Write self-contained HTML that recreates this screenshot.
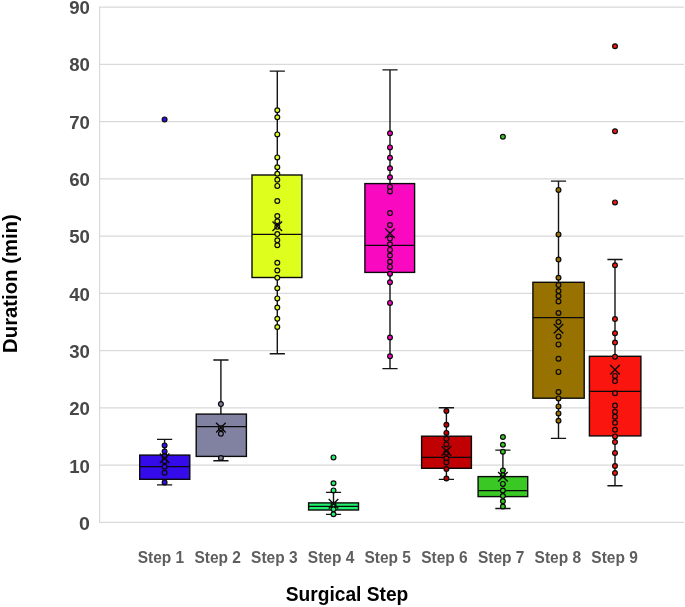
<!DOCTYPE html>
<html lang="en"><head><meta charset="utf-8"><title>Surgical Step Duration</title>
<style>html,body{margin:0;padding:0;background:#fff}svg{display:block}</style></head>
<body>
<svg width="685" height="607" viewBox="0 0 685 607">
<rect width="685" height="607" fill="#fff"/>
<g stroke="#d9d9d9" stroke-width="1.2" fill="none">
<line x1="99.6" y1="522.45" x2="684" y2="522.45"/>
<line x1="99.6" y1="465.20" x2="684" y2="465.20"/>
<line x1="99.6" y1="407.95" x2="684" y2="407.95"/>
<line x1="99.6" y1="350.70" x2="684" y2="350.70"/>
<line x1="99.6" y1="293.45" x2="684" y2="293.45"/>
<line x1="99.6" y1="236.20" x2="684" y2="236.20"/>
<line x1="99.6" y1="178.95" x2="684" y2="178.95"/>
<line x1="99.6" y1="121.70" x2="684" y2="121.70"/>
<line x1="99.6" y1="64.45" x2="684" y2="64.45"/>
<line x1="99.6" y1="7.20" x2="684" y2="7.20"/>
<line x1="99.6" y1="6.60" x2="99.6" y2="523.05"/>
</g>
<g font-family="'Liberation Sans', Arial, sans-serif" font-weight="bold" font-size="17.8" fill="#474747" text-anchor="end">
<text x="89.85" y="529.95" textLength="10.9" lengthAdjust="spacingAndGlyphs">0</text>
<text x="89.85" y="472.60" textLength="20.7" lengthAdjust="spacingAndGlyphs">10</text>
<text x="89.85" y="415.25" textLength="20.7" lengthAdjust="spacingAndGlyphs">20</text>
<text x="89.85" y="357.90" textLength="20.7" lengthAdjust="spacingAndGlyphs">30</text>
<text x="89.85" y="300.55" textLength="20.7" lengthAdjust="spacingAndGlyphs">40</text>
<text x="89.85" y="243.20" textLength="20.7" lengthAdjust="spacingAndGlyphs">50</text>
<text x="89.85" y="185.85" textLength="20.7" lengthAdjust="spacingAndGlyphs">60</text>
<text x="89.85" y="128.50" textLength="20.7" lengthAdjust="spacingAndGlyphs">70</text>
<text x="89.85" y="71.15" textLength="20.7" lengthAdjust="spacingAndGlyphs">80</text>
<text x="89.85" y="13.80" textLength="20.7" lengthAdjust="spacingAndGlyphs">90</text>
</g>
<g stroke="#0a0a0a" fill="none">
<path d="M164.6 439.4V455.1M164.6 479.3V484.9M157.0 439.4H172.2M157.0 484.9H172.2" stroke-width="1.4" stroke="#141414"/>
<rect x="139.7" y="455.1" width="50.1" height="24.2" fill="#350bea" stroke-width="1.4"/>
<path d="M139.7 466.6H189.8" stroke-width="1.25"/>
<g fill="#350bea" stroke-width="1.2">
<circle cx="164.6" cy="119.4" r="2.4"/>
<circle cx="164.6" cy="445.4" r="2.4"/>
<circle cx="164.6" cy="451.4" r="2.4"/>
<circle cx="164.6" cy="456.2" r="2.4"/>
<circle cx="164.6" cy="461.3" r="2.4"/>
<circle cx="164.6" cy="466.8" r="2.4"/>
<circle cx="164.6" cy="472.7" r="2.4"/>
<circle cx="164.6" cy="482.4" r="2.4"/>
</g>
<path d="M159.8 453.4L169.4 463.0M159.8 463.0L169.4 453.4" stroke-width="1.35"/>
</g>
<g stroke="#0a0a0a" fill="none">
<path d="M220.9 360.0V414.1M220.9 456.4V460.8M213.3 360.0H228.5M213.3 460.8H228.5" stroke-width="1.4" stroke="#141414"/>
<rect x="196.2" y="414.1" width="50.2" height="42.3" fill="#8181a2" stroke-width="1.4"/>
<path d="M196.2 426.5H246.4" stroke-width="1.25"/>
<g fill="#8181a2" stroke-width="1.2">
<circle cx="220.9" cy="404.1" r="2.4"/>
<circle cx="220.9" cy="428.3" r="2.4"/>
<circle cx="220.9" cy="433.8" r="2.4"/>
<circle cx="220.9" cy="458.0" r="2.4"/>
</g>
<path d="M216.1 422.8L225.7 432.4M216.1 432.4L225.7 422.8" stroke-width="1.35"/>
</g>
<g stroke="#0a0a0a" fill="none">
<path d="M277.3 71.1V175.0M277.3 277.5V353.8M269.7 71.1H284.9M269.7 353.8H284.9" stroke-width="1.4" stroke="#141414"/>
<rect x="252.0" y="175.0" width="49.9" height="102.5" fill="#deff1e" stroke-width="1.4"/>
<path d="M252.0 234.4H301.9" stroke-width="1.25"/>
<g fill="#deff1e" stroke-width="1.2">
<circle cx="277.3" cy="110.2" r="2.4"/>
<circle cx="277.3" cy="117.3" r="2.4"/>
<circle cx="277.3" cy="134.4" r="2.4"/>
<circle cx="277.3" cy="157.4" r="2.4"/>
<circle cx="277.3" cy="167.2" r="2.4"/>
<circle cx="277.3" cy="173.7" r="2.4"/>
<circle cx="277.3" cy="179.8" r="2.4"/>
<circle cx="277.3" cy="185.9" r="2.4"/>
<circle cx="277.3" cy="201.0" r="2.4"/>
<circle cx="277.3" cy="216.0" r="2.4"/>
<circle cx="277.3" cy="221.3" r="2.4"/>
<circle cx="277.3" cy="226.7" r="2.4"/>
<circle cx="277.3" cy="234.1" r="2.4"/>
<circle cx="277.3" cy="240.2" r="2.4"/>
<circle cx="277.3" cy="245.3" r="2.4"/>
<circle cx="277.3" cy="262.7" r="2.4"/>
<circle cx="277.3" cy="270.5" r="2.4"/>
<circle cx="277.3" cy="277.7" r="2.4"/>
<circle cx="277.3" cy="288.2" r="2.4"/>
<circle cx="277.3" cy="298.4" r="2.4"/>
<circle cx="277.3" cy="307.6" r="2.4"/>
<circle cx="277.3" cy="318.8" r="2.4"/>
<circle cx="277.3" cy="327.0" r="2.4"/>
</g>
<path d="M272.5 221.4L282.1 231.0M272.5 231.0L282.1 221.4" stroke-width="1.35"/>
</g>
<g stroke="#0a0a0a" fill="none">
<path d="M333.5 492.4V502.9M333.5 510.0V514.4M325.9 492.4H341.1M325.9 514.4H341.1" stroke-width="1.4" stroke="#141414"/>
<rect x="308.6" y="502.9" width="49.9" height="7.1" fill="#22f06e" stroke-width="1.4"/>
<path d="M308.6 506.3H358.5" stroke-width="1.25"/>
<g fill="#22f06e" stroke-width="1.2">
<circle cx="333.5" cy="457.4" r="2.4"/>
<circle cx="333.5" cy="483.3" r="2.4"/>
<circle cx="333.5" cy="490.4" r="2.4"/>
<circle cx="333.5" cy="504.8" r="2.4"/>
<circle cx="333.5" cy="509.3" r="2.4"/>
<circle cx="333.5" cy="514.2" r="2.4"/>
</g>
<path d="M328.7 499.0L338.3 508.6M328.7 508.6L338.3 499.0" stroke-width="1.35"/>
</g>
<g stroke="#0a0a0a" fill="none">
<path d="M390.0 69.9V183.6M390.0 272.4V368.6M382.4 69.9H397.6M382.4 368.6H397.6" stroke-width="1.4" stroke="#141414"/>
<rect x="364.9" y="183.6" width="49.7" height="88.8" fill="#f90ac1" stroke-width="1.4"/>
<path d="M364.9 245.3H414.6" stroke-width="1.25"/>
<g fill="#f90ac1" stroke-width="1.2">
<circle cx="390.0" cy="133.2" r="2.4"/>
<circle cx="390.0" cy="147.4" r="2.4"/>
<circle cx="390.0" cy="157.7" r="2.4"/>
<circle cx="390.0" cy="168.3" r="2.4"/>
<circle cx="390.0" cy="177.3" r="2.4"/>
<circle cx="390.0" cy="186.9" r="2.4"/>
<circle cx="390.0" cy="191.4" r="2.4"/>
<circle cx="390.0" cy="213.1" r="2.4"/>
<circle cx="390.0" cy="225.0" r="2.4"/>
<circle cx="390.0" cy="238.6" r="2.4"/>
<circle cx="390.0" cy="244.2" r="2.4"/>
<circle cx="390.0" cy="249.9" r="2.4"/>
<circle cx="390.0" cy="255.6" r="2.4"/>
<circle cx="390.0" cy="261.8" r="2.4"/>
<circle cx="390.0" cy="266.9" r="2.4"/>
<circle cx="390.0" cy="273.8" r="2.4"/>
<circle cx="390.0" cy="282.2" r="2.4"/>
<circle cx="390.0" cy="302.9" r="2.4"/>
<circle cx="390.0" cy="337.5" r="2.4"/>
<circle cx="390.0" cy="356.3" r="2.4"/>
</g>
<path d="M385.2 228.5L394.8 238.1M385.2 238.1L394.8 228.5" stroke-width="1.35"/>
</g>
<g stroke="#0a0a0a" fill="none">
<path d="M446.4 407.7V436.2M446.4 468.3V479.4M438.8 407.7H454.0M438.8 479.4H454.0" stroke-width="1.4" stroke="#141414"/>
<rect x="421.6" y="436.2" width="49.8" height="32.1" fill="#c00003" stroke-width="1.4"/>
<path d="M421.6 457.3H471.4" stroke-width="1.25"/>
<g fill="#c00003" stroke-width="1.2">
<circle cx="446.4" cy="411.0" r="2.4"/>
<circle cx="446.4" cy="424.7" r="2.4"/>
<circle cx="446.4" cy="432.9" r="2.4"/>
<circle cx="446.4" cy="438.7" r="2.4"/>
<circle cx="446.4" cy="444.4" r="2.4"/>
<circle cx="446.4" cy="452.7" r="2.4"/>
<circle cx="446.4" cy="458.4" r="2.4"/>
<circle cx="446.4" cy="462.5" r="2.4"/>
<circle cx="446.4" cy="469.1" r="2.4"/>
<circle cx="446.4" cy="478.5" r="2.4"/>
</g>
<path d="M441.6 446.2L451.2 455.8M441.6 455.8L451.2 446.2" stroke-width="1.35"/>
</g>
<g stroke="#0a0a0a" fill="none">
<path d="M502.9 450.1V476.6M502.9 496.6V508.5M495.3 450.1H510.5M495.3 508.5H510.5" stroke-width="1.4" stroke="#141414"/>
<rect x="478.1" y="476.6" width="49.6" height="20.0" fill="#39c824" stroke-width="1.4"/>
<path d="M478.1 490.5H527.7" stroke-width="1.25"/>
<g fill="#39c824" stroke-width="1.2">
<circle cx="502.9" cy="136.7" r="2.4"/>
<circle cx="502.9" cy="437.0" r="2.4"/>
<circle cx="502.9" cy="444.7" r="2.4"/>
<circle cx="502.9" cy="451.8" r="2.4"/>
<circle cx="502.9" cy="470.6" r="2.4"/>
<circle cx="502.9" cy="475.2" r="2.4"/>
<circle cx="502.9" cy="483.9" r="2.4"/>
<circle cx="502.9" cy="490.5" r="2.4"/>
<circle cx="502.9" cy="496.1" r="2.4"/>
<circle cx="502.9" cy="501.2" r="2.4"/>
<circle cx="502.9" cy="506.5" r="2.4"/>
</g>
<path d="M498.1 472.0L507.7 481.6M498.1 481.6L507.7 472.0" stroke-width="1.35"/>
</g>
<g stroke="#0a0a0a" fill="none">
<path d="M558.5 181.1V282.3M558.5 398.2V438.4M550.9 181.1H566.1M550.9 438.4H566.1" stroke-width="1.4" stroke="#141414"/>
<rect x="532.9" y="282.3" width="51.3" height="115.9" fill="#977200" stroke-width="1.4"/>
<path d="M532.9 317.5H584.2" stroke-width="1.25"/>
<g fill="#977200" stroke-width="1.2">
<circle cx="558.5" cy="189.9" r="2.4"/>
<circle cx="558.5" cy="234.4" r="2.4"/>
<circle cx="558.5" cy="259.6" r="2.4"/>
<circle cx="558.5" cy="277.7" r="2.4"/>
<circle cx="558.5" cy="285.0" r="2.4"/>
<circle cx="558.5" cy="291.0" r="2.4"/>
<circle cx="558.5" cy="296.0" r="2.4"/>
<circle cx="558.5" cy="301.4" r="2.4"/>
<circle cx="558.5" cy="313.0" r="2.4"/>
<circle cx="558.5" cy="322.0" r="2.4"/>
<circle cx="558.5" cy="336.5" r="2.4"/>
<circle cx="558.5" cy="344.4" r="2.4"/>
<circle cx="558.5" cy="358.8" r="2.4"/>
<circle cx="558.5" cy="371.9" r="2.4"/>
<circle cx="558.5" cy="392.0" r="2.4"/>
<circle cx="558.5" cy="398.4" r="2.4"/>
<circle cx="558.5" cy="406.4" r="2.4"/>
<circle cx="558.5" cy="413.4" r="2.4"/>
<circle cx="558.5" cy="420.7" r="2.4"/>
</g>
<path d="M553.7 324.0L563.3 333.6M553.7 333.6L563.3 324.0" stroke-width="1.35"/>
</g>
<g stroke="#0a0a0a" fill="none">
<path d="M615.0 259.5V356.3M615.0 435.9V485.8M607.4 259.5H622.6M607.4 485.8H622.6" stroke-width="1.4" stroke="#141414"/>
<rect x="589.4" y="356.3" width="51.5" height="79.6" fill="#fa150f" stroke-width="1.4"/>
<path d="M589.4 391.4H640.9" stroke-width="1.25"/>
<g fill="#fa150f" stroke-width="1.2">
<circle cx="615.0" cy="46.2" r="2.4"/>
<circle cx="615.0" cy="131.2" r="2.4"/>
<circle cx="615.0" cy="202.4" r="2.4"/>
<circle cx="615.0" cy="265.2" r="2.4"/>
<circle cx="615.0" cy="319.1" r="2.4"/>
<circle cx="615.0" cy="333.2" r="2.4"/>
<circle cx="615.0" cy="342.6" r="2.4"/>
<circle cx="615.0" cy="356.7" r="2.4"/>
<circle cx="615.0" cy="375.9" r="2.4"/>
<circle cx="615.0" cy="381.1" r="2.4"/>
<circle cx="615.0" cy="393.2" r="2.4"/>
<circle cx="615.0" cy="405.6" r="2.4"/>
<circle cx="615.0" cy="411.7" r="2.4"/>
<circle cx="615.0" cy="416.7" r="2.4"/>
<circle cx="615.0" cy="422.8" r="2.4"/>
<circle cx="615.0" cy="429.8" r="2.4"/>
<circle cx="615.0" cy="436.4" r="2.4"/>
<circle cx="615.0" cy="442.1" r="2.4"/>
<circle cx="615.0" cy="453.0" r="2.4"/>
<circle cx="615.0" cy="466.0" r="2.4"/>
<circle cx="615.0" cy="473.0" r="2.4"/>
</g>
<path d="M610.2 365.0L619.8 374.6M610.2 374.6L619.8 365.0" stroke-width="1.35"/>
</g>
<g font-family="'Liberation Sans', Arial, sans-serif" font-weight="bold" font-size="16.2" fill="#5e5e5e">
<text x="137.70" y="562.7" textLength="46.5" lengthAdjust="spacingAndGlyphs">Step 1</text>
<text x="194.40" y="562.7" textLength="46.5" lengthAdjust="spacingAndGlyphs">Step 2</text>
<text x="251.10" y="562.7" textLength="46.5" lengthAdjust="spacingAndGlyphs">Step 3</text>
<text x="307.80" y="562.7" textLength="46.5" lengthAdjust="spacingAndGlyphs">Step 4</text>
<text x="364.50" y="562.7" textLength="46.5" lengthAdjust="spacingAndGlyphs">Step 5</text>
<text x="421.20" y="562.7" textLength="46.5" lengthAdjust="spacingAndGlyphs">Step 6</text>
<text x="477.90" y="562.7" textLength="46.5" lengthAdjust="spacingAndGlyphs">Step 7</text>
<text x="534.60" y="562.7" textLength="46.5" lengthAdjust="spacingAndGlyphs">Step 8</text>
<text x="591.30" y="562.7" textLength="46.5" lengthAdjust="spacingAndGlyphs">Step 9</text>
</g>
<text x="285.7" y="601.1" font-family="'Liberation Sans', Arial, sans-serif" font-weight="bold" font-size="19.6" fill="#000" textLength="122.6" lengthAdjust="spacingAndGlyphs">Surgical Step</text>
<text transform="translate(17.3 352.9) rotate(-90)" font-family="'Liberation Sans', Arial, sans-serif" font-weight="bold" font-size="19.6" fill="#000" textLength="138.6" lengthAdjust="spacingAndGlyphs">Duration (min)</text>
</svg>
</body></html>
